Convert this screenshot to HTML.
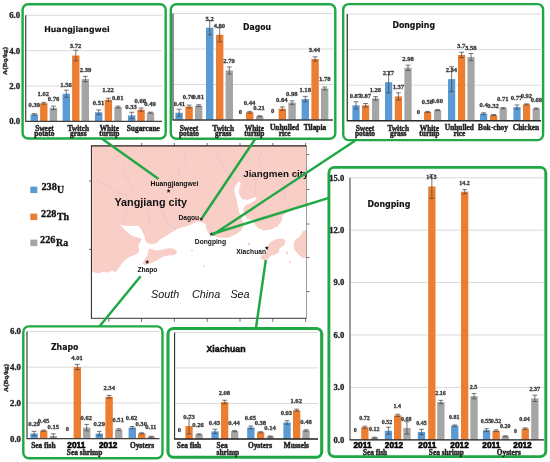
<!DOCTYPE html>
<html><head><meta charset="utf-8"><title>Radionuclide activity map</title>
<style>html,body{margin:0;padding:0;background:#fff}svg{display:block;filter:blur(0.35px)}text{white-space:pre}</style></head>
<body>
<svg width="550" height="462" viewBox="0 0 550 462">
<rect width="550" height="462" fill="#fff"/>
<g>
<rect x="91.4" y="145.9" width="215.1" height="172.4" fill="#F8CEC6"/>
<path d="M91.4 271.4L95.5 272.8L99.1 273.5L102.7 271.4L107.3 272.8L111.8 270.5L115.5 272.3L119.1 267.7L121.8 263.2L125.5 259.5L130 256.8L134.5 255L138.2 253.2L139.1 249.5L138.2 245.9L140 242.3L141.8 239.5L139.1 237.7L134.5 236.8L130.9 235L127.3 232.3L124.5 229.5L121.8 226.8L120 225L123.6 225.4L127.3 226.1L130.9 226.1L134.5 225.7L138.4 226.1L141.6 229.9L144.2 235.4L145.5 240.5L147.3 243.2L151.8 244.1L156.4 243.2L159.1 240.5L162.7 237.7L167.3 235L171.8 232.3L176.4 229.5L180.9 227.7L184.5 226.8L190 225L196 222L201.3 222L205.5 224.1L206.5 229.4L208.6 233.5L212.8 235.6L220.1 237.7L228.5 237.7L235.8 234.6L241 230.4L243.5 226.2L242.7 222L241.4 216.8L239.3 212.6L237.9 206.4L236.8 200.1L235.1 194.9L234.3 189.6L235.8 185.5L237.9 182.3L240 181.3L240.6 184.4L238.9 189.6L239.3 194.9L242 199L247.3 200.1L252.5 198L256.7 197L255.6 200.1L250.4 203.2L245.2 205.3L243.1 209.5L244.8 214.7L247.3 218.9L252.5 220L254.6 224.1L257.7 228.3L264 230.4L271.3 229.4L277.6 226.2L281.8 221L282.4 215.8L287 212.6L293.3 209.5L299.5 208L306.5 206.4L306.5 318.3L91.4 318.3Z" fill="#fff"/>
<path d="M142.7 263.2L144.5 259.5L147.3 255.9L148.2 251.4L149.1 248.6L152.7 249.5L157.3 250.5L162.7 249.5L168.2 248.3L172.7 248.6L176.4 250.5L176.9 253.2L173.6 255L168.2 255.4L162.7 256.8L158.2 259.5L153.6 261.9L149.1 263.7L144.5 265Z" fill="#F8CEC6"/>
<path d="M270.7 241.8L276.2 239.2L282.7 238.5L285.6 240.7L284.3 245.1L279.5 248.4L278.4 252.7L274 254.9L270.3 256L268.6 259.3L264.2 260.4L260.3 258.2L262 254.9L266.4 252.7L266.8 248.4L268.6 244.4Z" fill="#F8CEC6"/>
<path d="M293.3 244L295.4 239.8L299.5 236.7L302.7 231.4L306.5 229.4L306.5 258.6L301.6 257.6L297.4 253.4L294.3 249.2Z" fill="#F8CEC6"/>
<circle cx="192" cy="250.5" r="0.9" fill="#F8CEC6"/>
<circle cx="204" cy="265.8" r="1.0" fill="#F8CEC6"/>
<circle cx="249" cy="244" r="1.4" fill="#F8CEC6"/>
<circle cx="287" cy="252.7" r="1.2" fill="#F8CEC6"/>
<circle cx="199" cy="243" r="0.7" fill="#F8CEC6"/>
<circle cx="290" cy="262" r="1.0" fill="#F8CEC6"/>
<circle cx="226" cy="243" r="0.8" fill="#F8CEC6"/>
<path d="M122 164L125 170L123 176L128 179L130 184L133 187L130 192L126 195L128 202L125 208L127 215L123 222M96 180L102 184L110 187L116 191L120 194L126 195M188 150L184 156L186 162L180 168L178 172L181 178M160 206L164 214L166 222L170 226L176 228M150 206L146 214L150 220L148 226M215 150L219 160L224 166L230 176L236 182M262 150L258 162L262 170L256 180L255 195M280 180L286 190L284 200L290 206" stroke="#CBB0E6" stroke-width="0.5" fill="none" opacity="0.7" stroke-linejoin="round"/>
<path d="M90.9 145.9H306.5" stroke="#2a1a1a" stroke-width="1.4" fill="none"/>
<path d="M91.4 145.9V318.3" stroke="#222" stroke-width="1.0" fill="none"/>
<path d="M90.9 318.3H306.5" stroke="#222" stroke-width="0.9" fill="none"/>
<path d="M306.5 145.9V318.3" stroke="#666" stroke-width="0.6" fill="none"/>
<path d="M108.8 143V145.9M108.8 318.3V321.8M141.6 143V145.9M141.6 318.3V321.8M174.4 143V145.9M174.4 318.3V321.8M207.2 143V145.9M207.2 318.3V321.8M240 143V145.9M240 318.3V321.8M272.8 143V145.9M272.8 318.3V321.8M305.6 143V145.9M305.6 318.3V321.8M89 181H91.4M89 249.4H91.4M306.8 154.6H309.5M306.8 189.5H309.5M306.8 224H309.5M306.8 257.5H309.5M306.8 291.6H309.5" stroke="#333" stroke-width="0.7" fill="none"/>
</g>
<text x="150.5" y="185.8" font-size="6.8" font-family='"Liberation Sans","DejaVu Sans",sans-serif' font-weight="bold" text-anchor="start" fill="#111" >Huangjiangwei</text>
<polygon points="168.6,188.8 169.14,190.25 170.69,190.32 169.48,191.29 169.89,192.78 168.6,191.92 167.31,192.78 167.72,191.29 166.51,190.32 168.06,190.25" fill="#111"/>
<text x="114.5" y="206.4" font-size="10.8" font-family='"Liberation Sans","DejaVu Sans",sans-serif' font-weight="bold" text-anchor="start" fill="#111" >Yangjiang city</text>
<text x="178.4" y="220.4" font-size="6.7" font-family='"Liberation Sans","DejaVu Sans",sans-serif' font-weight="bold" text-anchor="start" fill="#111" >Dagou</text>
<polygon points="201.3,216.8 201.84,218.25 203.39,218.32 202.18,219.29 202.59,220.78 201.3,219.92 200.01,220.78 200.42,219.29 199.21,218.32 200.76,218.25" fill="#111"/>
<clipPath id="mc"><rect x="91.4" y="145.9" width="215.3" height="172.4"/></clipPath>
<text x="243.2" y="177.3" font-size="9.8" font-family='"Liberation Sans","DejaVu Sans",sans-serif' font-weight="bold" text-anchor="start" fill="#111" clip-path="url(#mc)">Jiangmen city</text>
<text x="194.8" y="243.8" font-size="6.7" font-family='"Liberation Sans","DejaVu Sans",sans-serif' font-weight="bold" text-anchor="start" fill="#111" >Dongping</text>
<polygon points="211.4,232 211.94,233.45 213.49,233.52 212.28,234.49 212.69,235.98 211.4,235.12 210.11,235.98 210.52,234.49 209.31,233.52 210.86,233.45" fill="#111"/>
<text x="236.3" y="254" font-size="6.7" font-family='"Liberation Sans","DejaVu Sans",sans-serif' font-weight="bold" text-anchor="start" fill="#111" >Xiachuan</text>
<polygon points="266.8,245.8 267.34,247.25 268.89,247.32 267.68,248.29 268.09,249.78 266.8,248.92 265.51,249.78 265.92,248.29 264.71,247.32 266.26,247.25" fill="#111"/>
<text x="137.4" y="272.4" font-size="6.7" font-family='"Liberation Sans","DejaVu Sans",sans-serif' font-weight="bold" text-anchor="start" fill="#111" >Zhapo</text>
<polygon points="147.2,259.8 147.74,261.25 149.29,261.32 148.08,262.29 148.49,263.78 147.2,262.92 145.91,263.78 146.32,262.29 145.11,261.32 146.66,261.25" fill="#111"/>
<text x="151" y="298" font-size="10.8" font-family='"Liberation Sans","DejaVu Sans",sans-serif' font-weight="normal" text-anchor="start" fill="#111" font-style="italic">South</text>
<text x="192" y="298" font-size="10.8" font-family='"Liberation Sans","DejaVu Sans",sans-serif' font-weight="normal" text-anchor="start" fill="#111" font-style="italic">China</text>
<text x="230.4" y="298" font-size="10.8" font-family='"Liberation Sans","DejaVu Sans",sans-serif' font-weight="normal" text-anchor="start" fill="#111" font-style="italic">Sea</text>
<line x1="101" y1="138" x2="158.6" y2="179" stroke="#1FA843" stroke-width="2.45"/>
<line x1="255.5" y1="138.5" x2="202" y2="218" stroke="#1FA843" stroke-width="2.45"/>
<line x1="212.5" y1="235" x2="355" y2="140.8" stroke="#1FA843" stroke-width="2.45"/>
<line x1="212" y1="234" x2="329" y2="197.8" stroke="#1FA843" stroke-width="2.45"/>
<line x1="140.6" y1="276.3" x2="99" y2="327" stroke="#1FA843" stroke-width="2.45"/>
<line x1="265.8" y1="260" x2="255.9" y2="328.5" stroke="#1FA843" stroke-width="2.45"/>
<rect x="22.6" y="4.2" width="143.1" height="134.3" rx="5.5" ry="5.5" fill="#fff" stroke="#1FA843" stroke-width="2.4"/>
<rect x="170.8" y="4.3" width="164.5" height="134.5" rx="5.5" ry="5.5" fill="#fff" stroke="#1FA843" stroke-width="2.4"/>
<rect x="343.2" y="4.1" width="199.9" height="136" rx="5.5" ry="5.5" fill="#fff" stroke="#1FA843" stroke-width="2.4"/>
<rect x="23.3" y="326.4" width="139.2" height="131.9" rx="5.5" ry="5.5" fill="#fff" stroke="#1FA843" stroke-width="2.4"/>
<rect x="168" y="328.5" width="153.7" height="128.7" rx="5.5" ry="5.5" fill="#fff" stroke="#1FA843" stroke-width="3.1"/>
<rect x="328.9" y="167.4" width="216.9" height="289.2" rx="5.5" ry="5.5" fill="#fff" stroke="#1FA843" stroke-width="2.9"/>
<line x1="25.7" y1="121.3" x2="162" y2="121.3" stroke="#D6D6D6" stroke-width="0.9"/>
<line x1="25.7" y1="85.96" x2="162" y2="85.96" stroke="#D6D6D6" stroke-width="0.9"/>
<line x1="25.7" y1="50.62" x2="162" y2="50.62" stroke="#D6D6D6" stroke-width="0.9"/>
<line x1="25.7" y1="15.28" x2="162" y2="15.28" stroke="#D6D6D6" stroke-width="0.9"/>
<rect x="30.6" y="114.41" width="7.4" height="6.89" fill="#5B9BD5"/>
<rect x="40.1" y="103.28" width="7.4" height="18.02" fill="#ED7D31"/>
<rect x="49.7" y="107.87" width="7.4" height="13.43" fill="#A5A5A5"/>
<path d="M34.3 113.7V115.12M31.9 113.7H36.7M31.9 115.12H36.7" stroke="#4a4a4a" stroke-width="0.75" fill="none"/>
<path d="M43.8 102.39V104.16M41.4 102.39H46.2M41.4 104.16H46.2" stroke="#4a4a4a" stroke-width="0.75" fill="none"/>
<path d="M53.4 106.1V109.64M51 106.1H55.8M51 109.64H55.8" stroke="#4a4a4a" stroke-width="0.75" fill="none"/>
<rect x="62.6" y="93.73" width="7.4" height="27.57" fill="#5B9BD5"/>
<rect x="72.1" y="55.57" width="7.4" height="65.73" fill="#ED7D31"/>
<rect x="81.6" y="79.07" width="7.4" height="42.23" fill="#A5A5A5"/>
<path d="M66.3 90.2V97.27M63.9 90.2H68.7M63.9 97.27H68.7" stroke="#4a4a4a" stroke-width="0.75" fill="none"/>
<path d="M75.8 50.27V60.87M73.4 50.27H78.2M73.4 60.87H78.2" stroke="#4a4a4a" stroke-width="0.75" fill="none"/>
<path d="M85.3 76.42V81.72M82.9 76.42H87.7M82.9 81.72H87.7" stroke="#4a4a4a" stroke-width="0.75" fill="none"/>
<rect x="95" y="112.29" width="7.4" height="9.01" fill="#5B9BD5"/>
<rect x="104.7" y="99.74" width="7.4" height="21.56" fill="#ED7D31"/>
<rect x="114.3" y="106.99" width="7.4" height="14.31" fill="#A5A5A5"/>
<path d="M98.7 109.99V114.59M96.3 109.99H101.1M96.3 114.59H101.1" stroke="#4a4a4a" stroke-width="0.75" fill="none"/>
<path d="M108.4 98.15V101.33M106 98.15H110.8M106 101.33H110.8" stroke="#4a4a4a" stroke-width="0.75" fill="none"/>
<path d="M118 106.1V107.87M115.6 106.1H120.4M115.6 107.87H120.4" stroke="#4a4a4a" stroke-width="0.75" fill="none"/>
<rect x="128" y="115.47" width="7.4" height="5.83" fill="#5B9BD5"/>
<rect x="137.4" y="109.64" width="7.4" height="11.66" fill="#ED7D31"/>
<rect x="146.8" y="112.64" width="7.4" height="8.66" fill="#A5A5A5"/>
<path d="M131.7 112.29V118.65M129.3 112.29H134.1M129.3 118.65H134.1" stroke="#4a4a4a" stroke-width="0.75" fill="none"/>
<path d="M141.1 108.05V111.23M138.7 108.05H143.5M138.7 111.23H143.5" stroke="#4a4a4a" stroke-width="0.75" fill="none"/>
<path d="M150.5 112.11V113.17M148.1 112.11H152.9M148.1 113.17H152.9" stroke="#4a4a4a" stroke-width="0.75" fill="none"/>
<path d="M25.7 15.28V121.3" stroke="#404040" stroke-width="1.2" fill="none"/>
<path d="M25.2 121.3H162" stroke="#404040" stroke-width="1.3" fill="none"/>
<text x="34.3" y="107.18" font-size="6.6" font-family='"Liberation Serif","DejaVu Serif",serif' font-weight="bold" text-anchor="middle" fill="#3a3a3a"  stroke="#3a3a3a" stroke-width="0.3">0.39</text>
<text x="43.3" y="96.18" font-size="6.6" font-family='"Liberation Serif","DejaVu Serif",serif' font-weight="bold" text-anchor="middle" fill="#3a3a3a"  stroke="#3a3a3a" stroke-width="0.3">1.02</text>
<text x="53.5" y="100.78" font-size="6.6" font-family='"Liberation Serif","DejaVu Serif",serif' font-weight="bold" text-anchor="middle" fill="#3a3a3a"  stroke="#3a3a3a" stroke-width="0.3">0.76</text>
<text x="66" y="86.58" font-size="6.6" font-family='"Liberation Serif","DejaVu Serif",serif' font-weight="bold" text-anchor="middle" fill="#3a3a3a"  stroke="#3a3a3a" stroke-width="0.3">1.56</text>
<text x="75.5" y="48.48" font-size="6.6" font-family='"Liberation Serif","DejaVu Serif",serif' font-weight="bold" text-anchor="middle" fill="#3a3a3a"  stroke="#3a3a3a" stroke-width="0.3">3.72</text>
<text x="85.5" y="71.78" font-size="6.6" font-family='"Liberation Serif","DejaVu Serif",serif' font-weight="bold" text-anchor="middle" fill="#3a3a3a"  stroke="#3a3a3a" stroke-width="0.3">2.39</text>
<text x="98.5" y="105.18" font-size="6.6" font-family='"Liberation Serif","DejaVu Serif",serif' font-weight="bold" text-anchor="middle" fill="#3a3a3a"  stroke="#3a3a3a" stroke-width="0.3">0.51</text>
<text x="108" y="92.18" font-size="6.6" font-family='"Liberation Serif","DejaVu Serif",serif' font-weight="bold" text-anchor="middle" fill="#3a3a3a"  stroke="#3a3a3a" stroke-width="0.3">1.22</text>
<text x="117.7" y="100.18" font-size="6.6" font-family='"Liberation Serif","DejaVu Serif",serif' font-weight="bold" text-anchor="middle" fill="#3a3a3a"  stroke="#3a3a3a" stroke-width="0.3">0.81</text>
<text x="131" y="108.78" font-size="6.6" font-family='"Liberation Serif","DejaVu Serif",serif' font-weight="bold" text-anchor="middle" fill="#3a3a3a"  stroke="#3a3a3a" stroke-width="0.3">0.33</text>
<text x="140.3" y="102.58" font-size="6.6" font-family='"Liberation Serif","DejaVu Serif",serif' font-weight="bold" text-anchor="middle" fill="#3a3a3a"  stroke="#3a3a3a" stroke-width="0.3">0.66</text>
<text x="150" y="105.58" font-size="6.6" font-family='"Liberation Serif","DejaVu Serif",serif' font-weight="bold" text-anchor="middle" fill="#3a3a3a"  stroke="#3a3a3a" stroke-width="0.3">0.49</text>
<text x="44.4" y="130.62" font-size="7.4" font-family='"Liberation Serif","DejaVu Serif",serif' font-weight="bold" text-anchor="middle" fill="#222"  stroke="#222" stroke-width="0.4">Sweet</text>
<text x="44.4" y="135.82" font-size="7.4" font-family='"Liberation Serif","DejaVu Serif",serif' font-weight="bold" text-anchor="middle" fill="#222"  stroke="#222" stroke-width="0.4">potato</text>
<text x="78.3" y="130.62" font-size="7.4" font-family='"Liberation Serif","DejaVu Serif",serif' font-weight="bold" text-anchor="middle" fill="#222"  stroke="#222" stroke-width="0.4">Twitch</text>
<text x="78.3" y="135.82" font-size="7.4" font-family='"Liberation Serif","DejaVu Serif",serif' font-weight="bold" text-anchor="middle" fill="#222"  stroke="#222" stroke-width="0.4">grass</text>
<text x="109.3" y="130.62" font-size="7.4" font-family='"Liberation Serif","DejaVu Serif",serif' font-weight="bold" text-anchor="middle" fill="#222"  stroke="#222" stroke-width="0.4">White</text>
<text x="109.3" y="135.82" font-size="7.4" font-family='"Liberation Serif","DejaVu Serif",serif' font-weight="bold" text-anchor="middle" fill="#222"  stroke="#222" stroke-width="0.4">turnip</text>
<text x="143.3" y="130.62" font-size="7.4" font-family='"Liberation Serif","DejaVu Serif",serif' font-weight="bold" text-anchor="middle" fill="#222"  stroke="#222" stroke-width="0.4">Sugarcane</text>
<text x="20.2" y="124.2" font-size="8.8" font-family='"Liberation Serif","DejaVu Serif",serif' font-weight="bold" text-anchor="end" fill="#222"  stroke="#222" stroke-width="0.3">0.0</text>
<text x="20.2" y="88.86" font-size="8.8" font-family='"Liberation Serif","DejaVu Serif",serif' font-weight="bold" text-anchor="end" fill="#222"  stroke="#222" stroke-width="0.3">2.0</text>
<text x="20.2" y="53.52" font-size="8.8" font-family='"Liberation Serif","DejaVu Serif",serif' font-weight="bold" text-anchor="end" fill="#222"  stroke="#222" stroke-width="0.3">4.0</text>
<text x="20.2" y="18.18" font-size="8.8" font-family='"Liberation Serif","DejaVu Serif",serif' font-weight="bold" text-anchor="end" fill="#222"  stroke="#222" stroke-width="0.3">6.0</text>
<text x="7.4" y="61" font-size="7.1" font-family='"Liberation Serif","DejaVu Serif",serif' font-weight="bold" text-anchor="middle" fill="#222" transform="rotate(-90 7.4 61)" stroke="#222" stroke-width="0.3">A(Bq/kg)</text>
<text x="44.3" y="31.7" font-size="7.8" font-family='"DejaVu Sans","Liberation Sans",sans-serif' font-weight="bold" text-anchor="start" fill="#111"  stroke="#111" stroke-width="0.15">Huangjiangwei</text>
<line x1="173" y1="120" x2="333" y2="120" stroke="#D6D6D6" stroke-width="0.9"/>
<line x1="173" y1="84.5" x2="333" y2="84.5" stroke="#D6D6D6" stroke-width="0.9"/>
<line x1="173" y1="49" x2="333" y2="49" stroke="#D6D6D6" stroke-width="0.9"/>
<line x1="173" y1="13.5" x2="333" y2="13.5" stroke="#D6D6D6" stroke-width="0.9"/>
<rect x="175.4" y="112.72" width="7.4" height="7.28" fill="#5B9BD5"/>
<rect x="185.4" y="106.51" width="7.4" height="13.49" fill="#ED7D31"/>
<rect x="195" y="105.62" width="7.4" height="14.38" fill="#A5A5A5"/>
<path d="M179.1 109.17V116.27M176.7 109.17H181.5M176.7 116.27H181.5" stroke="#4a4a4a" stroke-width="0.75" fill="none"/>
<path d="M189.1 105.09V107.93M186.7 105.09H191.5M186.7 107.93H191.5" stroke="#4a4a4a" stroke-width="0.75" fill="none"/>
<path d="M198.7 104.73V106.51M196.3 104.73H201.1M196.3 106.51H201.1" stroke="#4a4a4a" stroke-width="0.75" fill="none"/>
<rect x="206" y="27.7" width="7.4" height="92.3" fill="#5B9BD5"/>
<rect x="216" y="34.8" width="7.4" height="85.2" fill="#ED7D31"/>
<rect x="225.6" y="70.48" width="7.4" height="49.52" fill="#A5A5A5"/>
<path d="M209.7 20.6V34.8M207.3 20.6H212.1M207.3 34.8H212.1" stroke="#4a4a4a" stroke-width="0.75" fill="none"/>
<path d="M219.7 27.7V41.9M217.3 27.7H222.1M217.3 41.9H222.1" stroke="#4a4a4a" stroke-width="0.75" fill="none"/>
<path d="M229.3 66.93V74.03M226.9 66.93H231.7M226.9 74.03H231.7" stroke="#4a4a4a" stroke-width="0.75" fill="none"/>
<rect x="246" y="112.19" width="7.4" height="7.81" fill="#ED7D31"/>
<rect x="256" y="116.27" width="7.4" height="3.73" fill="#A5A5A5"/>
<path d="M249.7 111.3V113.08M247.3 111.3H252.1M247.3 113.08H252.1" stroke="#4a4a4a" stroke-width="0.75" fill="none"/>
<path d="M259.7 115.74V116.81M257.3 115.74H262.1M257.3 116.81H262.1" stroke="#4a4a4a" stroke-width="0.75" fill="none"/>
<rect x="278.6" y="108.64" width="7.4" height="11.36" fill="#ED7D31"/>
<rect x="288.4" y="102.61" width="7.4" height="17.39" fill="#A5A5A5"/>
<path d="M282.3 106.86V110.41M279.9 106.86H284.7M279.9 110.41H284.7" stroke="#4a4a4a" stroke-width="0.75" fill="none"/>
<path d="M292.1 100.83V104.38M289.7 100.83H294.5M289.7 104.38H294.5" stroke="#4a4a4a" stroke-width="0.75" fill="none"/>
<rect x="301.6" y="99.06" width="7.4" height="20.95" fill="#5B9BD5"/>
<rect x="311.4" y="58.94" width="7.4" height="61.06" fill="#ED7D31"/>
<rect x="321" y="88.41" width="7.4" height="31.59" fill="#A5A5A5"/>
<path d="M305.3 96.39V101.72M302.9 96.39H307.7M302.9 101.72H307.7" stroke="#4a4a4a" stroke-width="0.75" fill="none"/>
<path d="M315.1 56.81V61.07M312.7 56.81H317.5M312.7 61.07H317.5" stroke="#4a4a4a" stroke-width="0.75" fill="none"/>
<path d="M324.7 86.98V89.83M322.3 86.98H327.1M322.3 89.83H327.1" stroke="#4a4a4a" stroke-width="0.75" fill="none"/>
<path d="M173 13.5V120" stroke="#404040" stroke-width="1.2" fill="none"/>
<path d="M172.5 120H333" stroke="#404040" stroke-width="1.3" fill="none"/>
<text x="179.4" y="105.78" font-size="6.6" font-family='"Liberation Serif","DejaVu Serif",serif' font-weight="bold" text-anchor="middle" fill="#3a3a3a"  stroke="#3a3a3a" stroke-width="0.3">0.41</text>
<text x="188.6" y="98.78" font-size="6.6" font-family='"Liberation Serif","DejaVu Serif",serif' font-weight="bold" text-anchor="middle" fill="#3a3a3a"  stroke="#3a3a3a" stroke-width="0.3">0.76</text>
<text x="198.2" y="98.78" font-size="6.6" font-family='"Liberation Serif","DejaVu Serif",serif' font-weight="bold" text-anchor="middle" fill="#3a3a3a"  stroke="#3a3a3a" stroke-width="0.3">0.81</text>
<text x="209.6" y="20.58" font-size="6.6" font-family='"Liberation Serif","DejaVu Serif",serif' font-weight="bold" text-anchor="middle" fill="#3a3a3a"  stroke="#3a3a3a" stroke-width="0.3">5.2</text>
<text x="219.4" y="27.78" font-size="6.6" font-family='"Liberation Serif","DejaVu Serif",serif' font-weight="bold" text-anchor="middle" fill="#3a3a3a"  stroke="#3a3a3a" stroke-width="0.3">4.80</text>
<text x="229" y="63.18" font-size="6.6" font-family='"Liberation Serif","DejaVu Serif",serif' font-weight="bold" text-anchor="middle" fill="#3a3a3a"  stroke="#3a3a3a" stroke-width="0.3">2.79</text>
<text x="240.4" y="113.58" font-size="6.6" font-family='"Liberation Serif","DejaVu Serif",serif' font-weight="bold" text-anchor="middle" fill="#3a3a3a"  stroke="#3a3a3a" stroke-width="0.3">0</text>
<text x="249.6" y="105.18" font-size="6.6" font-family='"Liberation Serif","DejaVu Serif",serif' font-weight="bold" text-anchor="middle" fill="#3a3a3a"  stroke="#3a3a3a" stroke-width="0.3">0.44</text>
<text x="259" y="109.78" font-size="6.6" font-family='"Liberation Serif","DejaVu Serif",serif' font-weight="bold" text-anchor="middle" fill="#3a3a3a"  stroke="#3a3a3a" stroke-width="0.3">0.21</text>
<text x="272.6" y="113.18" font-size="6.6" font-family='"Liberation Serif","DejaVu Serif",serif' font-weight="bold" text-anchor="middle" fill="#3a3a3a"  stroke="#3a3a3a" stroke-width="0.3">0</text>
<text x="281.8" y="102.18" font-size="6.6" font-family='"Liberation Serif","DejaVu Serif",serif' font-weight="bold" text-anchor="middle" fill="#3a3a3a"  stroke="#3a3a3a" stroke-width="0.3">0.64</text>
<text x="291.8" y="96.18" font-size="6.6" font-family='"Liberation Serif","DejaVu Serif",serif' font-weight="bold" text-anchor="middle" fill="#3a3a3a"  stroke="#3a3a3a" stroke-width="0.3">0.98</text>
<text x="305.2" y="92.18" font-size="6.6" font-family='"Liberation Serif","DejaVu Serif",serif' font-weight="bold" text-anchor="middle" fill="#3a3a3a"  stroke="#3a3a3a" stroke-width="0.3">1.18</text>
<text x="314.4" y="52.18" font-size="6.6" font-family='"Liberation Serif","DejaVu Serif",serif' font-weight="bold" text-anchor="middle" fill="#3a3a3a"  stroke="#3a3a3a" stroke-width="0.3">3.44</text>
<text x="324.8" y="81.48" font-size="6.6" font-family='"Liberation Serif","DejaVu Serif",serif' font-weight="bold" text-anchor="middle" fill="#3a3a3a"  stroke="#3a3a3a" stroke-width="0.3">1.78</text>
<text x="189" y="130.62" font-size="7.4" font-family='"Liberation Serif","DejaVu Serif",serif' font-weight="bold" text-anchor="middle" fill="#222"  stroke="#222" stroke-width="0.4">Sweet</text>
<text x="189" y="135.82" font-size="7.4" font-family='"Liberation Serif","DejaVu Serif",serif' font-weight="bold" text-anchor="middle" fill="#222"  stroke="#222" stroke-width="0.4">potato</text>
<text x="223.2" y="130.62" font-size="7.4" font-family='"Liberation Serif","DejaVu Serif",serif' font-weight="bold" text-anchor="middle" fill="#222"  stroke="#222" stroke-width="0.4">Twitch</text>
<text x="223.2" y="135.82" font-size="7.4" font-family='"Liberation Serif","DejaVu Serif",serif' font-weight="bold" text-anchor="middle" fill="#222"  stroke="#222" stroke-width="0.4">grass</text>
<text x="254.4" y="130.62" font-size="7.4" font-family='"Liberation Serif","DejaVu Serif",serif' font-weight="bold" text-anchor="middle" fill="#222"  stroke="#222" stroke-width="0.4">White</text>
<text x="254.4" y="135.82" font-size="7.4" font-family='"Liberation Serif","DejaVu Serif",serif' font-weight="bold" text-anchor="middle" fill="#222"  stroke="#222" stroke-width="0.4">turnip</text>
<text x="284.6" y="130.22" font-size="7.4" font-family='"Liberation Serif","DejaVu Serif",serif' font-weight="bold" text-anchor="middle" fill="#222"  stroke="#222" stroke-width="0.4">Unhulled</text>
<text x="284.6" y="135.82" font-size="7.4" font-family='"Liberation Serif","DejaVu Serif",serif' font-weight="bold" text-anchor="middle" fill="#222"  stroke="#222" stroke-width="0.4">rice</text>
<text x="315" y="130.22" font-size="7.4" font-family='"Liberation Serif","DejaVu Serif",serif' font-weight="bold" text-anchor="middle" fill="#222"  stroke="#222" stroke-width="0.4">Tilapia</text>
<text x="243" y="30" font-size="8.2" font-family='"DejaVu Sans","Liberation Sans",sans-serif' font-weight="bold" text-anchor="start" fill="#111" textLength="28" lengthAdjust="spacingAndGlyphs" stroke="#111" stroke-width="0.15">Dagou</text>
<line x1="347.3" y1="120.8" x2="541" y2="120.8" stroke="#D6D6D6" stroke-width="0.9"/>
<line x1="347.3" y1="85.2" x2="541" y2="85.2" stroke="#D6D6D6" stroke-width="0.9"/>
<line x1="347.3" y1="49.6" x2="541" y2="49.6" stroke="#D6D6D6" stroke-width="0.9"/>
<line x1="347.3" y1="14" x2="541" y2="14" stroke="#D6D6D6" stroke-width="0.9"/>
<rect x="352.4" y="105.31" width="7.2" height="15.49" fill="#5B9BD5"/>
<rect x="362" y="105.31" width="7.2" height="15.49" fill="#ED7D31"/>
<rect x="372" y="98.37" width="7.2" height="22.43" fill="#A5A5A5"/>
<path d="M356 101.75V108.87M353.6 101.75H358.4M353.6 108.87H358.4" stroke="#4a4a4a" stroke-width="0.75" fill="none"/>
<path d="M365.6 103.53V107.09M363.2 103.53H368M363.2 107.09H368" stroke="#4a4a4a" stroke-width="0.75" fill="none"/>
<path d="M375.6 96.59V100.15M373.2 96.59H378M373.2 100.15H378" stroke="#4a4a4a" stroke-width="0.75" fill="none"/>
<rect x="385" y="82.17" width="7.2" height="38.63" fill="#5B9BD5"/>
<rect x="394.8" y="96.41" width="7.2" height="24.39" fill="#ED7D31"/>
<rect x="404.4" y="67.76" width="7.2" height="53.04" fill="#A5A5A5"/>
<path d="M388.6 71.49V92.85M386.2 71.49H391M386.2 92.85H391" stroke="#4a4a4a" stroke-width="0.75" fill="none"/>
<path d="M398.4 92.85V99.97M396 92.85H400.8M396 99.97H400.8" stroke="#4a4a4a" stroke-width="0.75" fill="none"/>
<path d="M408 65.09V70.43M405.6 65.09H410.4M405.6 70.43H410.4" stroke="#4a4a4a" stroke-width="0.75" fill="none"/>
<rect x="424" y="111.9" width="7.2" height="8.9" fill="#ED7D31"/>
<rect x="434" y="110.12" width="7.2" height="10.68" fill="#A5A5A5"/>
<path d="M427.6 111.37V112.43M425.2 111.37H430M425.2 112.43H430" stroke="#4a4a4a" stroke-width="0.75" fill="none"/>
<path d="M437.6 109.59V110.65M435.2 109.59H440M435.2 110.65H440" stroke="#4a4a4a" stroke-width="0.75" fill="none"/>
<rect x="448" y="79.15" width="7.2" height="41.65" fill="#5B9BD5"/>
<rect x="458" y="54.94" width="7.2" height="65.86" fill="#ED7D31"/>
<rect x="467.4" y="57.08" width="7.2" height="63.72" fill="#A5A5A5"/>
<path d="M451.6 66.69V91.61M449.2 66.69H454M449.2 91.61H454" stroke="#4a4a4a" stroke-width="0.75" fill="none"/>
<path d="M461.6 52.27V57.61M459.2 52.27H464M459.2 57.61H464" stroke="#4a4a4a" stroke-width="0.75" fill="none"/>
<path d="M471 53.52V60.64M468.6 53.52H473.4M468.6 60.64H473.4" stroke="#4a4a4a" stroke-width="0.75" fill="none"/>
<rect x="480" y="113.68" width="7.2" height="7.12" fill="#5B9BD5"/>
<rect x="490" y="115.1" width="7.2" height="5.7" fill="#ED7D31"/>
<rect x="499.6" y="108.16" width="7.2" height="12.64" fill="#A5A5A5"/>
<path d="M483.6 112.79V114.57M481.2 112.79H486M481.2 114.57H486" stroke="#4a4a4a" stroke-width="0.75" fill="none"/>
<path d="M493.6 114.57V115.64M491.2 114.57H496M491.2 115.64H496" stroke="#4a4a4a" stroke-width="0.75" fill="none"/>
<path d="M503.2 107.63V108.7M500.8 107.63H505.6M500.8 108.7H505.6" stroke="#4a4a4a" stroke-width="0.75" fill="none"/>
<rect x="513.4" y="107.09" width="7.2" height="13.71" fill="#5B9BD5"/>
<rect x="523" y="104.42" width="7.2" height="16.38" fill="#ED7D31"/>
<rect x="532.6" y="108.52" width="7.2" height="12.28" fill="#A5A5A5"/>
<path d="M517 104.96V109.23M514.6 104.96H519.4M514.6 109.23H519.4" stroke="#4a4a4a" stroke-width="0.75" fill="none"/>
<path d="M526.6 103.89V104.96M524.2 103.89H529M524.2 104.96H529" stroke="#4a4a4a" stroke-width="0.75" fill="none"/>
<path d="M536.2 107.98V109.05M533.8 107.98H538.6M533.8 109.05H538.6" stroke="#4a4a4a" stroke-width="0.75" fill="none"/>
<path d="M347.3 14V120.8" stroke="#454545" stroke-width="1.4" fill="none"/>
<path d="M346.8 120.8H541" stroke="#2a2a2a" stroke-width="1.4" fill="none"/>
<text x="355.4" y="98.18" font-size="6.6" font-family='"Liberation Serif","DejaVu Serif",serif' font-weight="bold" text-anchor="middle" fill="#3a3a3a"  stroke="#3a3a3a" stroke-width="0.3">0.87</text>
<text x="365.4" y="98.18" font-size="6.6" font-family='"Liberation Serif","DejaVu Serif",serif' font-weight="bold" text-anchor="middle" fill="#3a3a3a"  stroke="#3a3a3a" stroke-width="0.3">0.87</text>
<text x="375.4" y="91.58" font-size="6.6" font-family='"Liberation Serif","DejaVu Serif",serif' font-weight="bold" text-anchor="middle" fill="#3a3a3a"  stroke="#3a3a3a" stroke-width="0.3">1.26</text>
<text x="388.4" y="75.18" font-size="6.6" font-family='"Liberation Serif","DejaVu Serif",serif' font-weight="bold" text-anchor="middle" fill="#3a3a3a"  stroke="#3a3a3a" stroke-width="0.3">2.17</text>
<text x="398.4" y="89.38" font-size="6.6" font-family='"Liberation Serif","DejaVu Serif",serif' font-weight="bold" text-anchor="middle" fill="#3a3a3a"  stroke="#3a3a3a" stroke-width="0.3">1.37</text>
<text x="408" y="60.58" font-size="6.6" font-family='"Liberation Serif","DejaVu Serif",serif' font-weight="bold" text-anchor="middle" fill="#3a3a3a"  stroke="#3a3a3a" stroke-width="0.3">2.98</text>
<text x="418.4" y="113.58" font-size="6.6" font-family='"Liberation Serif","DejaVu Serif",serif' font-weight="bold" text-anchor="middle" fill="#3a3a3a"  stroke="#3a3a3a" stroke-width="0.3">0</text>
<text x="427.4" y="104.18" font-size="6.6" font-family='"Liberation Serif","DejaVu Serif",serif' font-weight="bold" text-anchor="middle" fill="#3a3a3a"  stroke="#3a3a3a" stroke-width="0.3">0.50</text>
<text x="437.2" y="103.18" font-size="6.6" font-family='"Liberation Serif","DejaVu Serif",serif' font-weight="bold" text-anchor="middle" fill="#3a3a3a"  stroke="#3a3a3a" stroke-width="0.3">0.60</text>
<text x="451.4" y="72.18" font-size="6.6" font-family='"Liberation Serif","DejaVu Serif",serif' font-weight="bold" text-anchor="middle" fill="#3a3a3a"  stroke="#3a3a3a" stroke-width="0.3">2.34</text>
<text x="461.2" y="48.18" font-size="6.6" font-family='"Liberation Serif","DejaVu Serif",serif' font-weight="bold" text-anchor="middle" fill="#3a3a3a"  stroke="#3a3a3a" stroke-width="0.3">3.7</text>
<text x="470.8" y="49.78" font-size="6.6" font-family='"Liberation Serif","DejaVu Serif",serif' font-weight="bold" text-anchor="middle" fill="#3a3a3a"  stroke="#3a3a3a" stroke-width="0.3">3.58</text>
<text x="483.6" y="106.58" font-size="6.6" font-family='"Liberation Serif","DejaVu Serif",serif' font-weight="bold" text-anchor="middle" fill="#3a3a3a"  stroke="#3a3a3a" stroke-width="0.3">0.4</text>
<text x="493" y="108.18" font-size="6.6" font-family='"Liberation Serif","DejaVu Serif",serif' font-weight="bold" text-anchor="middle" fill="#3a3a3a"  stroke="#3a3a3a" stroke-width="0.3">0.32</text>
<text x="502.8" y="100.78" font-size="6.6" font-family='"Liberation Serif","DejaVu Serif",serif' font-weight="bold" text-anchor="middle" fill="#3a3a3a"  stroke="#3a3a3a" stroke-width="0.3">0.71</text>
<text x="516.6" y="99.78" font-size="6.6" font-family='"Liberation Serif","DejaVu Serif",serif' font-weight="bold" text-anchor="middle" fill="#3a3a3a"  stroke="#3a3a3a" stroke-width="0.3">0.77</text>
<text x="526.4" y="97.58" font-size="6.6" font-family='"Liberation Serif","DejaVu Serif",serif' font-weight="bold" text-anchor="middle" fill="#3a3a3a"  stroke="#3a3a3a" stroke-width="0.3">0.92</text>
<text x="536.4" y="101.58" font-size="6.6" font-family='"Liberation Serif","DejaVu Serif",serif' font-weight="bold" text-anchor="middle" fill="#3a3a3a"  stroke="#3a3a3a" stroke-width="0.3">0.69</text>
<text x="365" y="130.62" font-size="7.4" font-family='"Liberation Serif","DejaVu Serif",serif' font-weight="bold" text-anchor="middle" fill="#222"  stroke="#222" stroke-width="0.4">Sweet</text>
<text x="365" y="135.82" font-size="7.4" font-family='"Liberation Serif","DejaVu Serif",serif' font-weight="bold" text-anchor="middle" fill="#222"  stroke="#222" stroke-width="0.4">potato</text>
<text x="398.2" y="130.62" font-size="7.4" font-family='"Liberation Serif","DejaVu Serif",serif' font-weight="bold" text-anchor="middle" fill="#222"  stroke="#222" stroke-width="0.4">Twitch</text>
<text x="398.2" y="135.82" font-size="7.4" font-family='"Liberation Serif","DejaVu Serif",serif' font-weight="bold" text-anchor="middle" fill="#222"  stroke="#222" stroke-width="0.4">grass</text>
<text x="429.4" y="130.62" font-size="7.4" font-family='"Liberation Serif","DejaVu Serif",serif' font-weight="bold" text-anchor="middle" fill="#222"  stroke="#222" stroke-width="0.4">White</text>
<text x="429.4" y="135.82" font-size="7.4" font-family='"Liberation Serif","DejaVu Serif",serif' font-weight="bold" text-anchor="middle" fill="#222"  stroke="#222" stroke-width="0.4">turnip</text>
<text x="459.4" y="130.22" font-size="7.4" font-family='"Liberation Serif","DejaVu Serif",serif' font-weight="bold" text-anchor="middle" fill="#222"  stroke="#222" stroke-width="0.4">Unhulled</text>
<text x="459.4" y="135.82" font-size="7.4" font-family='"Liberation Serif","DejaVu Serif",serif' font-weight="bold" text-anchor="middle" fill="#222"  stroke="#222" stroke-width="0.4">rice</text>
<text x="493" y="130.22" font-size="7.4" font-family='"Liberation Serif","DejaVu Serif",serif' font-weight="bold" text-anchor="middle" fill="#222"  stroke="#222" stroke-width="0.4">Bok-choy</text>
<text x="526" y="130.22" font-size="7.4" font-family='"Liberation Serif","DejaVu Serif",serif' font-weight="bold" text-anchor="middle" fill="#222"  stroke="#222" stroke-width="0.4">Chicken</text>
<text x="392.4" y="28" font-size="8.2" font-family='"DejaVu Sans","Liberation Sans",sans-serif' font-weight="bold" text-anchor="start" fill="#111" textLength="42.6" lengthAdjust="spacingAndGlyphs" stroke="#111" stroke-width="0.15">Dongping</text>
<line x1="27" y1="438.7" x2="159.5" y2="438.7" stroke="#D6D6D6" stroke-width="0.9"/>
<line x1="27" y1="402.94" x2="159.5" y2="402.94" stroke="#D6D6D6" stroke-width="0.9"/>
<line x1="27" y1="367.18" x2="159.5" y2="367.18" stroke="#D6D6D6" stroke-width="0.9"/>
<line x1="27" y1="331.42" x2="159.5" y2="331.42" stroke="#D6D6D6" stroke-width="0.9"/>
<rect x="30.4" y="433.51" width="7.4" height="5.19" fill="#5B9BD5"/>
<rect x="40" y="430.65" width="7.4" height="8.05" fill="#ED7D31"/>
<rect x="49.6" y="436.02" width="7.4" height="2.68" fill="#A5A5A5"/>
<path d="M34.1 431.37V435.66M31.7 431.37H36.5M31.7 435.66H36.5" stroke="#4a4a4a" stroke-width="0.75" fill="none"/>
<path d="M43.7 430.12V431.19M41.3 430.12H46.1M41.3 431.19H46.1" stroke="#4a4a4a" stroke-width="0.75" fill="none"/>
<path d="M53.3 433.87V438.16M50.9 433.87H55.7M50.9 438.16H55.7" stroke="#4a4a4a" stroke-width="0.75" fill="none"/>
<rect x="73.6" y="367" width="7.4" height="71.7" fill="#ED7D31"/>
<rect x="83" y="427.61" width="7.4" height="11.09" fill="#A5A5A5"/>
<path d="M77.3 364.32V369.68M74.9 364.32H79.7M74.9 369.68H79.7" stroke="#4a4a4a" stroke-width="0.75" fill="none"/>
<path d="M86.7 424.4V430.83M84.3 424.4H89.1M84.3 430.83H89.1" stroke="#4a4a4a" stroke-width="0.75" fill="none"/>
<rect x="95.6" y="433.51" width="7.4" height="5.19" fill="#5B9BD5"/>
<rect x="105.4" y="396.86" width="7.4" height="41.84" fill="#ED7D31"/>
<rect x="115" y="429.58" width="7.4" height="9.12" fill="#A5A5A5"/>
<path d="M99.3 431.37V435.66M96.9 431.37H101.7M96.9 435.66H101.7" stroke="#4a4a4a" stroke-width="0.75" fill="none"/>
<path d="M109.1 395.43V398.29M106.7 395.43H111.5M106.7 398.29H111.5" stroke="#4a4a4a" stroke-width="0.75" fill="none"/>
<path d="M118.7 428.69V430.48M116.3 428.69H121.1M116.3 430.48H121.1" stroke="#4a4a4a" stroke-width="0.75" fill="none"/>
<rect x="128.6" y="427.61" width="7.4" height="11.09" fill="#5B9BD5"/>
<rect x="138" y="433.34" width="7.4" height="5.36" fill="#ED7D31"/>
<rect x="147.6" y="436.73" width="7.4" height="1.97" fill="#A5A5A5"/>
<path d="M132.3 426.54V428.69M129.9 426.54H134.7M129.9 428.69H134.7" stroke="#4a4a4a" stroke-width="0.75" fill="none"/>
<path d="M141.7 432.8V433.87M139.3 432.8H144.1M139.3 433.87H144.1" stroke="#4a4a4a" stroke-width="0.75" fill="none"/>
<path d="M151.3 436.2V437.27M148.9 436.2H153.7M148.9 437.27H153.7" stroke="#4a4a4a" stroke-width="0.75" fill="none"/>
<path d="M27 331.42V438.7" stroke="#404040" stroke-width="1.2" fill="none"/>
<path d="M26.5 438.7H159.5" stroke="#404040" stroke-width="1.3" fill="none"/>
<text x="34" y="425.78" font-size="6.6" font-family='"Liberation Serif","DejaVu Serif",serif' font-weight="bold" text-anchor="middle" fill="#3a3a3a"  stroke="#3a3a3a" stroke-width="0.3">0.29</text>
<text x="43.5" y="423.18" font-size="6.6" font-family='"Liberation Serif","DejaVu Serif",serif' font-weight="bold" text-anchor="middle" fill="#3a3a3a"  stroke="#3a3a3a" stroke-width="0.3">0.45</text>
<text x="53.3" y="428.78" font-size="6.6" font-family='"Liberation Serif","DejaVu Serif",serif' font-weight="bold" text-anchor="middle" fill="#3a3a3a"  stroke="#3a3a3a" stroke-width="0.3">0.15</text>
<text x="67.4" y="431.18" font-size="6.6" font-family='"Liberation Serif","DejaVu Serif",serif' font-weight="bold" text-anchor="middle" fill="#3a3a3a"  stroke="#3a3a3a" stroke-width="0.3">0</text>
<text x="77" y="360.18" font-size="6.6" font-family='"Liberation Serif","DejaVu Serif",serif' font-weight="bold" text-anchor="middle" fill="#3a3a3a"  stroke="#3a3a3a" stroke-width="0.3">4.01</text>
<text x="86.3" y="419.78" font-size="6.6" font-family='"Liberation Serif","DejaVu Serif",serif' font-weight="bold" text-anchor="middle" fill="#3a3a3a"  stroke="#3a3a3a" stroke-width="0.3">0.62</text>
<text x="99.2" y="425.78" font-size="6.6" font-family='"Liberation Serif","DejaVu Serif",serif' font-weight="bold" text-anchor="middle" fill="#3a3a3a"  stroke="#3a3a3a" stroke-width="0.3">0.29</text>
<text x="109.2" y="389.78" font-size="6.6" font-family='"Liberation Serif","DejaVu Serif",serif' font-weight="bold" text-anchor="middle" fill="#3a3a3a"  stroke="#3a3a3a" stroke-width="0.3">2.34</text>
<text x="118.2" y="422.18" font-size="6.6" font-family='"Liberation Serif","DejaVu Serif",serif' font-weight="bold" text-anchor="middle" fill="#3a3a3a"  stroke="#3a3a3a" stroke-width="0.3">0.51</text>
<text x="131.6" y="419.78" font-size="6.6" font-family='"Liberation Serif","DejaVu Serif",serif' font-weight="bold" text-anchor="middle" fill="#3a3a3a"  stroke="#3a3a3a" stroke-width="0.3">0.62</text>
<text x="141.2" y="425.58" font-size="6.6" font-family='"Liberation Serif","DejaVu Serif",serif' font-weight="bold" text-anchor="middle" fill="#3a3a3a"  stroke="#3a3a3a" stroke-width="0.3">0.30</text>
<text x="150.8" y="429.18" font-size="6.6" font-family='"Liberation Serif","DejaVu Serif",serif' font-weight="bold" text-anchor="middle" fill="#3a3a3a"  stroke="#3a3a3a" stroke-width="0.3">0.11</text>
<text x="43.4" y="447.82" font-size="7.4" font-family='"Liberation Serif","DejaVu Serif",serif' font-weight="bold" text-anchor="middle" fill="#222"  stroke="#222" stroke-width="0.4">Sea fish</text>
<text x="76.3" y="447.6" font-size="8.3" font-family='"Liberation Sans","DejaVu Sans",sans-serif' font-weight="bold" text-anchor="middle" fill="#000"  stroke="#000" stroke-width="0.55">2011</text>
<text x="108.2" y="447.6" font-size="8.3" font-family='"Liberation Sans","DejaVu Sans",sans-serif' font-weight="bold" text-anchor="middle" fill="#000"  stroke="#000" stroke-width="0.55">2012</text>
<text x="142" y="447.82" font-size="7.4" font-family='"Liberation Serif","DejaVu Serif",serif' font-weight="bold" text-anchor="middle" fill="#222"  stroke="#222" stroke-width="0.4">Oysters</text>
<text x="84.6" y="455.22" font-size="7.4" font-family='"Liberation Serif","DejaVu Serif",serif' font-weight="bold" text-anchor="middle" fill="#222"  stroke="#222" stroke-width="0.4">Sea shrimp</text>
<text x="21" y="441.6" font-size="8.8" font-family='"Liberation Serif","DejaVu Serif",serif' font-weight="bold" text-anchor="end" fill="#222"  stroke="#222" stroke-width="0.3">0.0</text>
<text x="21" y="405.84" font-size="8.8" font-family='"Liberation Serif","DejaVu Serif",serif' font-weight="bold" text-anchor="end" fill="#222"  stroke="#222" stroke-width="0.3">2.0</text>
<text x="21" y="370.08" font-size="8.8" font-family='"Liberation Serif","DejaVu Serif",serif' font-weight="bold" text-anchor="end" fill="#222"  stroke="#222" stroke-width="0.3">4.0</text>
<text x="21" y="334.32" font-size="8.8" font-family='"Liberation Serif","DejaVu Serif",serif' font-weight="bold" text-anchor="end" fill="#222"  stroke="#222" stroke-width="0.3">6.0</text>
<text x="7.6" y="378" font-size="7.1" font-family='"Liberation Serif","DejaVu Serif",serif' font-weight="bold" text-anchor="middle" fill="#222" transform="rotate(-90 7.6 378)" stroke="#222" stroke-width="0.3">A(Bq/kg)</text>
<text x="50.9" y="350.2" font-size="8.2" font-family='"DejaVu Sans","Liberation Sans",sans-serif' font-weight="bold" text-anchor="start" fill="#111" textLength="27.5" lengthAdjust="spacingAndGlyphs" stroke="#111" stroke-width="0.15">Zhapo</text>
<line x1="174.6" y1="439" x2="318" y2="439" stroke="#D6D6D6" stroke-width="0.9"/>
<line x1="174.6" y1="403.46" x2="318" y2="403.46" stroke="#D6D6D6" stroke-width="0.9"/>
<line x1="174.6" y1="367.92" x2="318" y2="367.92" stroke="#D6D6D6" stroke-width="0.9"/>
<line x1="174.6" y1="332.38" x2="318" y2="332.38" stroke="#D6D6D6" stroke-width="0.9"/>
<rect x="185.4" y="426.03" width="7.3" height="12.97" fill="#ED7D31"/>
<rect x="195.4" y="434.38" width="7.3" height="4.62" fill="#A5A5A5"/>
<path d="M189.05 418.03V434.02M186.65 418.03H191.45M186.65 434.02H191.45" stroke="#4a4a4a" stroke-width="0.75" fill="none"/>
<path d="M199.05 433.85V434.91M196.65 433.85H201.45M196.65 434.91H201.45" stroke="#4a4a4a" stroke-width="0.75" fill="none"/>
<rect x="211.4" y="431.36" width="7.3" height="7.64" fill="#5B9BD5"/>
<rect x="221" y="402.04" width="7.3" height="36.96" fill="#ED7D31"/>
<rect x="231" y="431.18" width="7.3" height="7.82" fill="#A5A5A5"/>
<path d="M215.05 429.23V433.49M212.65 429.23H217.45M212.65 433.49H217.45" stroke="#4a4a4a" stroke-width="0.75" fill="none"/>
<path d="M224.65 400.26V403.82M222.25 400.26H227.05M222.25 403.82H227.05" stroke="#4a4a4a" stroke-width="0.75" fill="none"/>
<path d="M234.65 430.65V431.71M232.25 430.65H237.05M232.25 431.71H237.05" stroke="#4a4a4a" stroke-width="0.75" fill="none"/>
<rect x="247.2" y="427.45" width="7.3" height="11.55" fill="#5B9BD5"/>
<rect x="257" y="432.25" width="7.3" height="6.75" fill="#ED7D31"/>
<rect x="266.6" y="436.51" width="7.3" height="2.49" fill="#A5A5A5"/>
<path d="M250.85 426.03V428.87M248.45 426.03H253.25M248.45 428.87H253.25" stroke="#4a4a4a" stroke-width="0.75" fill="none"/>
<path d="M260.65 431.71V432.78M258.25 431.71H263.05M258.25 432.78H263.05" stroke="#4a4a4a" stroke-width="0.75" fill="none"/>
<path d="M270.25 435.98V437.05M267.85 435.98H272.65M267.85 437.05H272.65" stroke="#4a4a4a" stroke-width="0.75" fill="none"/>
<rect x="283.4" y="422.47" width="7.3" height="16.53" fill="#5B9BD5"/>
<rect x="293" y="410.21" width="7.3" height="28.79" fill="#ED7D31"/>
<rect x="302.4" y="430.47" width="7.3" height="8.53" fill="#A5A5A5"/>
<path d="M287.05 420.7V424.25M284.65 420.7H289.45M284.65 424.25H289.45" stroke="#4a4a4a" stroke-width="0.75" fill="none"/>
<path d="M296.65 409.15V411.28M294.25 409.15H299.05M294.25 411.28H299.05" stroke="#4a4a4a" stroke-width="0.75" fill="none"/>
<path d="M306.05 429.76V431.18M303.65 429.76H308.45M303.65 431.18H308.45" stroke="#4a4a4a" stroke-width="0.75" fill="none"/>
<path d="M174.6 332.38V439" stroke="#222" stroke-width="1.05" fill="none"/>
<path d="M174.1 439H318" stroke="#222" stroke-width="1.5" fill="none"/>
<text x="179.4" y="431.78" font-size="6.6" font-family='"Liberation Serif","DejaVu Serif",serif' font-weight="bold" text-anchor="middle" fill="#3a3a3a"  stroke="#3a3a3a" stroke-width="0.3">0</text>
<text x="189" y="419.18" font-size="6.6" font-family='"Liberation Serif","DejaVu Serif",serif' font-weight="bold" text-anchor="middle" fill="#3a3a3a"  stroke="#3a3a3a" stroke-width="0.3">0.73</text>
<text x="198" y="427.18" font-size="6.6" font-family='"Liberation Serif","DejaVu Serif",serif' font-weight="bold" text-anchor="middle" fill="#3a3a3a"  stroke="#3a3a3a" stroke-width="0.3">0.26</text>
<text x="214.4" y="424.58" font-size="6.6" font-family='"Liberation Serif","DejaVu Serif",serif' font-weight="bold" text-anchor="middle" fill="#3a3a3a"  stroke="#3a3a3a" stroke-width="0.3">0.43</text>
<text x="224.4" y="395.18" font-size="6.6" font-family='"Liberation Serif","DejaVu Serif",serif' font-weight="bold" text-anchor="middle" fill="#3a3a3a"  stroke="#3a3a3a" stroke-width="0.3">2.08</text>
<text x="234" y="424.58" font-size="6.6" font-family='"Liberation Serif","DejaVu Serif",serif' font-weight="bold" text-anchor="middle" fill="#3a3a3a"  stroke="#3a3a3a" stroke-width="0.3">0.44</text>
<text x="250.4" y="420.18" font-size="6.6" font-family='"Liberation Serif","DejaVu Serif",serif' font-weight="bold" text-anchor="middle" fill="#3a3a3a"  stroke="#3a3a3a" stroke-width="0.3">0.65</text>
<text x="260.4" y="425.18" font-size="6.6" font-family='"Liberation Serif","DejaVu Serif",serif' font-weight="bold" text-anchor="middle" fill="#3a3a3a"  stroke="#3a3a3a" stroke-width="0.3">0.38</text>
<text x="270" y="429.58" font-size="6.6" font-family='"Liberation Serif","DejaVu Serif",serif' font-weight="bold" text-anchor="middle" fill="#3a3a3a"  stroke="#3a3a3a" stroke-width="0.3">0.14</text>
<text x="286.4" y="415.18" font-size="6.6" font-family='"Liberation Serif","DejaVu Serif",serif' font-weight="bold" text-anchor="middle" fill="#3a3a3a"  stroke="#3a3a3a" stroke-width="0.3">0.93</text>
<text x="296.2" y="403.18" font-size="6.6" font-family='"Liberation Serif","DejaVu Serif",serif' font-weight="bold" text-anchor="middle" fill="#3a3a3a"  stroke="#3a3a3a" stroke-width="0.3">1.62</text>
<text x="306" y="423.58" font-size="6.6" font-family='"Liberation Serif","DejaVu Serif",serif' font-weight="bold" text-anchor="middle" fill="#3a3a3a"  stroke="#3a3a3a" stroke-width="0.3">0.48</text>
<text x="189" y="448.22" font-size="7.4" font-family='"Liberation Serif","DejaVu Serif",serif' font-weight="bold" text-anchor="middle" fill="#222"  stroke="#222" stroke-width="0.4">Sea fish</text>
<text x="216.6" y="448.22" font-size="7.4" font-family='"Liberation Serif","DejaVu Serif",serif' font-weight="bold" text-anchor="start" fill="#222"  stroke="#222" stroke-width="0.4">Sea</text>
<text x="216.6" y="454.82" font-size="7.4" font-family='"Liberation Serif","DejaVu Serif",serif' font-weight="bold" text-anchor="start" fill="#222"  stroke="#222" stroke-width="0.4">shrimp</text>
<text x="260" y="448.22" font-size="7.4" font-family='"Liberation Serif","DejaVu Serif",serif' font-weight="bold" text-anchor="middle" fill="#222"  stroke="#222" stroke-width="0.4">Oysters</text>
<text x="296.4" y="448.22" font-size="7.4" font-family='"Liberation Serif","DejaVu Serif",serif' font-weight="bold" text-anchor="middle" fill="#222"  stroke="#222" stroke-width="0.4">Mussels</text>
<text x="206.5" y="351.6" font-size="8.8" font-family='"Liberation Sans","DejaVu Sans",sans-serif' font-weight="bold" text-anchor="start" fill="#111"  stroke="#111" stroke-width="0.45">Xiachuan</text>
<line x1="350" y1="439.8" x2="543.8" y2="439.8" stroke="#D6D6D6" stroke-width="0.9"/>
<line x1="350" y1="387.39" x2="543.8" y2="387.39" stroke="#D6D6D6" stroke-width="0.9"/>
<line x1="350" y1="334.98" x2="543.8" y2="334.98" stroke="#D6D6D6" stroke-width="0.9"/>
<line x1="350" y1="282.57" x2="543.8" y2="282.57" stroke="#D6D6D6" stroke-width="0.9"/>
<line x1="350" y1="230.16" x2="543.8" y2="230.16" stroke="#D6D6D6" stroke-width="0.9"/>
<line x1="350" y1="177.75" x2="543.8" y2="177.75" stroke="#D6D6D6" stroke-width="0.9"/>
<rect x="361.2" y="427.22" width="7.3" height="12.58" fill="#ED7D31"/>
<rect x="371" y="437.7" width="7.3" height="2.1" fill="#A5A5A5"/>
<path d="M364.85 426.17V428.27M362.45 426.17H367.25M362.45 428.27H367.25" stroke="#4a4a4a" stroke-width="0.75" fill="none"/>
<path d="M374.65 437.18V438.23M372.25 437.18H377.05M372.25 438.23H377.05" stroke="#4a4a4a" stroke-width="0.75" fill="none"/>
<rect x="384.8" y="430.72" width="7.3" height="9.08" fill="#5B9BD5"/>
<rect x="394" y="415.34" width="7.3" height="24.46" fill="#ED7D31"/>
<rect x="403.3" y="427.92" width="7.3" height="11.88" fill="#A5A5A5"/>
<path d="M388.45 427.22V434.21M386.05 427.22H390.85M386.05 434.21H390.85" stroke="#4a4a4a" stroke-width="0.75" fill="none"/>
<path d="M397.65 414.29V416.39M395.25 414.29H400.05M395.25 416.39H400.05" stroke="#4a4a4a" stroke-width="0.75" fill="none"/>
<path d="M406.95 421.81V434.03M404.55 421.81H409.35M404.55 434.03H409.35" stroke="#4a4a4a" stroke-width="0.75" fill="none"/>
<rect x="417.8" y="431.94" width="7.3" height="7.86" fill="#5B9BD5"/>
<rect x="428.2" y="186.49" width="7.3" height="253.31" fill="#ED7D31"/>
<rect x="437.2" y="402.06" width="7.3" height="37.74" fill="#A5A5A5"/>
<path d="M421.45 429.32V434.56M419.05 429.32H423.85M419.05 434.56H423.85" stroke="#4a4a4a" stroke-width="0.75" fill="none"/>
<path d="M431.85 174.61V198.36M429.45 174.61H434.25M429.45 198.36H434.25" stroke="#4a4a4a" stroke-width="0.75" fill="none"/>
<path d="M440.85 400.32V403.81M438.45 400.32H443.25M438.45 403.81H443.25" stroke="#4a4a4a" stroke-width="0.75" fill="none"/>
<rect x="451.1" y="425.65" width="7.3" height="14.15" fill="#5B9BD5"/>
<rect x="461" y="191.73" width="7.3" height="248.07" fill="#ED7D31"/>
<rect x="470.4" y="396.12" width="7.3" height="43.67" fill="#A5A5A5"/>
<path d="M454.75 424.95V426.35M452.35 424.95H457.15M452.35 426.35H457.15" stroke="#4a4a4a" stroke-width="0.75" fill="none"/>
<path d="M464.65 189.63V193.82M462.25 189.63H467.05M462.25 193.82H467.05" stroke="#4a4a4a" stroke-width="0.75" fill="none"/>
<path d="M474.05 393.5V398.75M471.65 393.5H476.45M471.65 398.75H476.45" stroke="#4a4a4a" stroke-width="0.75" fill="none"/>
<rect x="482.9" y="430.19" width="7.3" height="9.61" fill="#5B9BD5"/>
<rect x="492.5" y="430.72" width="7.3" height="9.08" fill="#ED7D31"/>
<rect x="501.7" y="436.31" width="7.3" height="3.49" fill="#A5A5A5"/>
<path d="M486.55 428.79V431.59M484.15 428.79H488.95M484.15 431.59H488.95" stroke="#4a4a4a" stroke-width="0.75" fill="none"/>
<path d="M496.15 429.84V431.59M493.75 429.84H498.55M493.75 431.59H498.55" stroke="#4a4a4a" stroke-width="0.75" fill="none"/>
<path d="M505.35 435.78V436.83M502.95 435.78H507.75M502.95 436.83H507.75" stroke="#4a4a4a" stroke-width="0.75" fill="none"/>
<rect x="521.6" y="428.62" width="7.3" height="11.18" fill="#ED7D31"/>
<rect x="531.2" y="398.4" width="7.3" height="41.4" fill="#A5A5A5"/>
<path d="M525.25 427.92V429.32M522.85 427.92H527.65M522.85 429.32H527.65" stroke="#4a4a4a" stroke-width="0.75" fill="none"/>
<path d="M534.85 395.25V401.54M532.45 395.25H537.25M532.45 401.54H537.25" stroke="#4a4a4a" stroke-width="0.75" fill="none"/>
<path d="M350 177.75V439.8" stroke="#484848" stroke-width="1.1" fill="none"/>
<path d="M349.5 439.8H543.8" stroke="#222" stroke-width="1.3" fill="none"/>
<text x="355.2" y="432.38" font-size="6" font-family='"Liberation Serif","DejaVu Serif",serif' font-weight="bold" text-anchor="middle" fill="#3a3a3a"  stroke="#3a3a3a" stroke-width="0.3">0</text>
<text x="364.4" y="420.48" font-size="6" font-family='"Liberation Serif","DejaVu Serif",serif' font-weight="bold" text-anchor="middle" fill="#3a3a3a"  stroke="#3a3a3a" stroke-width="0.3">0.72</text>
<text x="374.2" y="430.98" font-size="6" font-family='"Liberation Serif","DejaVu Serif",serif' font-weight="bold" text-anchor="middle" fill="#3a3a3a"  stroke="#3a3a3a" stroke-width="0.3">0.12</text>
<text x="386.9" y="423.98" font-size="6" font-family='"Liberation Serif","DejaVu Serif",serif' font-weight="bold" text-anchor="middle" fill="#3a3a3a"  stroke="#3a3a3a" stroke-width="0.3">0.52</text>
<text x="397.2" y="407.98" font-size="6" font-family='"Liberation Serif","DejaVu Serif",serif' font-weight="bold" text-anchor="middle" fill="#3a3a3a"  stroke="#3a3a3a" stroke-width="0.3">1.4</text>
<text x="406.2" y="420.78" font-size="6" font-family='"Liberation Serif","DejaVu Serif",serif' font-weight="bold" text-anchor="middle" fill="#3a3a3a"  stroke="#3a3a3a" stroke-width="0.3">0.68</text>
<text x="421.5" y="424.68" font-size="6" font-family='"Liberation Serif","DejaVu Serif",serif' font-weight="bold" text-anchor="middle" fill="#3a3a3a"  stroke="#3a3a3a" stroke-width="0.3">0.45</text>
<text x="440.6" y="394.88" font-size="6" font-family='"Liberation Serif","DejaVu Serif",serif' font-weight="bold" text-anchor="middle" fill="#3a3a3a"  stroke="#3a3a3a" stroke-width="0.3">2.16</text>
<text x="454.3" y="418.68" font-size="6" font-family='"Liberation Serif","DejaVu Serif",serif' font-weight="bold" text-anchor="middle" fill="#3a3a3a"  stroke="#3a3a3a" stroke-width="0.3">0.81</text>
<text x="473.6" y="388.98" font-size="6" font-family='"Liberation Serif","DejaVu Serif",serif' font-weight="bold" text-anchor="middle" fill="#3a3a3a"  stroke="#3a3a3a" stroke-width="0.3">2.5</text>
<text x="486" y="422.58" font-size="6" font-family='"Liberation Serif","DejaVu Serif",serif' font-weight="bold" text-anchor="middle" fill="#3a3a3a"  stroke="#3a3a3a" stroke-width="0.3">0.55</text>
<text x="496" y="422.58" font-size="6" font-family='"Liberation Serif","DejaVu Serif",serif' font-weight="bold" text-anchor="middle" fill="#3a3a3a"  stroke="#3a3a3a" stroke-width="0.3">0.52</text>
<text x="505.3" y="428.38" font-size="6" font-family='"Liberation Serif","DejaVu Serif",serif' font-weight="bold" text-anchor="middle" fill="#3a3a3a"  stroke="#3a3a3a" stroke-width="0.3">0.20</text>
<text x="515.4" y="432.68" font-size="6" font-family='"Liberation Serif","DejaVu Serif",serif' font-weight="bold" text-anchor="middle" fill="#3a3a3a"  stroke="#3a3a3a" stroke-width="0.3">0</text>
<text x="524.6" y="421.28" font-size="6" font-family='"Liberation Serif","DejaVu Serif",serif' font-weight="bold" text-anchor="middle" fill="#3a3a3a"  stroke="#3a3a3a" stroke-width="0.3">0.64</text>
<text x="534.7" y="390.88" font-size="6" font-family='"Liberation Serif","DejaVu Serif",serif' font-weight="bold" text-anchor="middle" fill="#3a3a3a"  stroke="#3a3a3a" stroke-width="0.3">2.37</text>
<text x="431.6" y="178.78" font-size="6" font-family='"Liberation Serif","DejaVu Serif",serif' font-weight="bold" text-anchor="middle" fill="#3a3a3a"  stroke="#3a3a3a" stroke-width="0.3">14.5</text>
<text x="464.6" y="184.78" font-size="6" font-family='"Liberation Serif","DejaVu Serif",serif' font-weight="bold" text-anchor="middle" fill="#3a3a3a"  stroke="#3a3a3a" stroke-width="0.3">14.2</text>
<text x="362.5" y="448.1" font-size="8.3" font-family='"Liberation Sans","DejaVu Sans",sans-serif' font-weight="bold" text-anchor="middle" fill="#000"  stroke="#000" stroke-width="0.55">2011</text>
<text x="394" y="448.1" font-size="8.3" font-family='"Liberation Sans","DejaVu Sans",sans-serif' font-weight="bold" text-anchor="middle" fill="#000"  stroke="#000" stroke-width="0.55">2012</text>
<text x="427.3" y="448.1" font-size="8.3" font-family='"Liberation Sans","DejaVu Sans",sans-serif' font-weight="bold" text-anchor="middle" fill="#000"  stroke="#000" stroke-width="0.55">2011</text>
<text x="459.6" y="448.1" font-size="8.3" font-family='"Liberation Sans","DejaVu Sans",sans-serif' font-weight="bold" text-anchor="middle" fill="#000"  stroke="#000" stroke-width="0.55">2012</text>
<text x="491.3" y="448.1" font-size="8.3" font-family='"Liberation Sans","DejaVu Sans",sans-serif' font-weight="bold" text-anchor="middle" fill="#000"  stroke="#000" stroke-width="0.55">2011</text>
<text x="522.5" y="448.1" font-size="8.3" font-family='"Liberation Sans","DejaVu Sans",sans-serif' font-weight="bold" text-anchor="middle" fill="#000"  stroke="#000" stroke-width="0.55">2012</text>
<text x="375" y="455.29" font-size="7.3" font-family='"Liberation Serif","DejaVu Serif",serif' font-weight="bold" text-anchor="middle" fill="#222"  stroke="#222" stroke-width="0.4">Sea fish</text>
<text x="446.4" y="455.29" font-size="7.3" font-family='"Liberation Serif","DejaVu Serif",serif' font-weight="bold" text-anchor="middle" fill="#222"  stroke="#222" stroke-width="0.4">Sea shrimp</text>
<text x="508.8" y="455.29" font-size="7.3" font-family='"Liberation Serif","DejaVu Serif",serif' font-weight="bold" text-anchor="middle" fill="#222"  stroke="#222" stroke-width="0.4">Oysters</text>
<text x="344.2" y="442.64" font-size="8.6" font-family='"Liberation Serif","DejaVu Serif",serif' font-weight="bold" text-anchor="end" fill="#222"  stroke="#222" stroke-width="0.3">0.0</text>
<text x="344.2" y="390.23" font-size="8.6" font-family='"Liberation Serif","DejaVu Serif",serif' font-weight="bold" text-anchor="end" fill="#222"  stroke="#222" stroke-width="0.3">3.0</text>
<text x="344.2" y="337.82" font-size="8.6" font-family='"Liberation Serif","DejaVu Serif",serif' font-weight="bold" text-anchor="end" fill="#222"  stroke="#222" stroke-width="0.3">6.0</text>
<text x="344.2" y="285.41" font-size="8.6" font-family='"Liberation Serif","DejaVu Serif",serif' font-weight="bold" text-anchor="end" fill="#222"  stroke="#222" stroke-width="0.3">9.0</text>
<text x="344.2" y="233" font-size="8.6" font-family='"Liberation Serif","DejaVu Serif",serif' font-weight="bold" text-anchor="end" fill="#222"  stroke="#222" stroke-width="0.3">12.0</text>
<text x="344.2" y="180.59" font-size="8.6" font-family='"Liberation Serif","DejaVu Serif",serif' font-weight="bold" text-anchor="end" fill="#222"  stroke="#222" stroke-width="0.3">15.0</text>
<text x="367.4" y="207" font-size="8.2" font-family='"DejaVu Sans","Liberation Sans",sans-serif' font-weight="bold" text-anchor="start" fill="#111" textLength="43" lengthAdjust="spacingAndGlyphs" stroke="#111" stroke-width="0.15">Dongping</text>
<rect x="30.3" y="186.6" width="7" height="6.5" fill="#5B9BD5"/>
<text x="41.4" y="190.2" font-size="10.3" font-family='"Liberation Serif","DejaVu Serif",serif' font-weight="bold" text-anchor="start" fill="#111"  stroke="#111" stroke-width="0.3">238</text>
<text x="57" y="193.4" font-size="9.9" font-family='"Liberation Serif","DejaVu Serif",serif' font-weight="bold" text-anchor="start" fill="#111"  stroke="#111" stroke-width="0.3">U</text>
<rect x="30.3" y="213.6" width="7" height="6.5" fill="#ED7D31"/>
<text x="41" y="217.2" font-size="10.3" font-family='"Liberation Serif","DejaVu Serif",serif' font-weight="bold" text-anchor="start" fill="#111"  stroke="#111" stroke-width="0.3">228</text>
<text x="57" y="220.4" font-size="9.9" font-family='"Liberation Serif","DejaVu Serif",serif' font-weight="bold" text-anchor="start" fill="#111"  stroke="#111" stroke-width="0.3">Th</text>
<rect x="30.3" y="239.6" width="7" height="6.5" fill="#A5A5A5"/>
<text x="40" y="243.2" font-size="10.3" font-family='"Liberation Serif","DejaVu Serif",serif' font-weight="bold" text-anchor="start" fill="#111"  stroke="#111" stroke-width="0.3">226</text>
<text x="56" y="246.4" font-size="9.9" font-family='"Liberation Serif","DejaVu Serif",serif' font-weight="bold" text-anchor="start" fill="#111"  stroke="#111" stroke-width="0.3">Ra</text>
</svg>
</body></html>
